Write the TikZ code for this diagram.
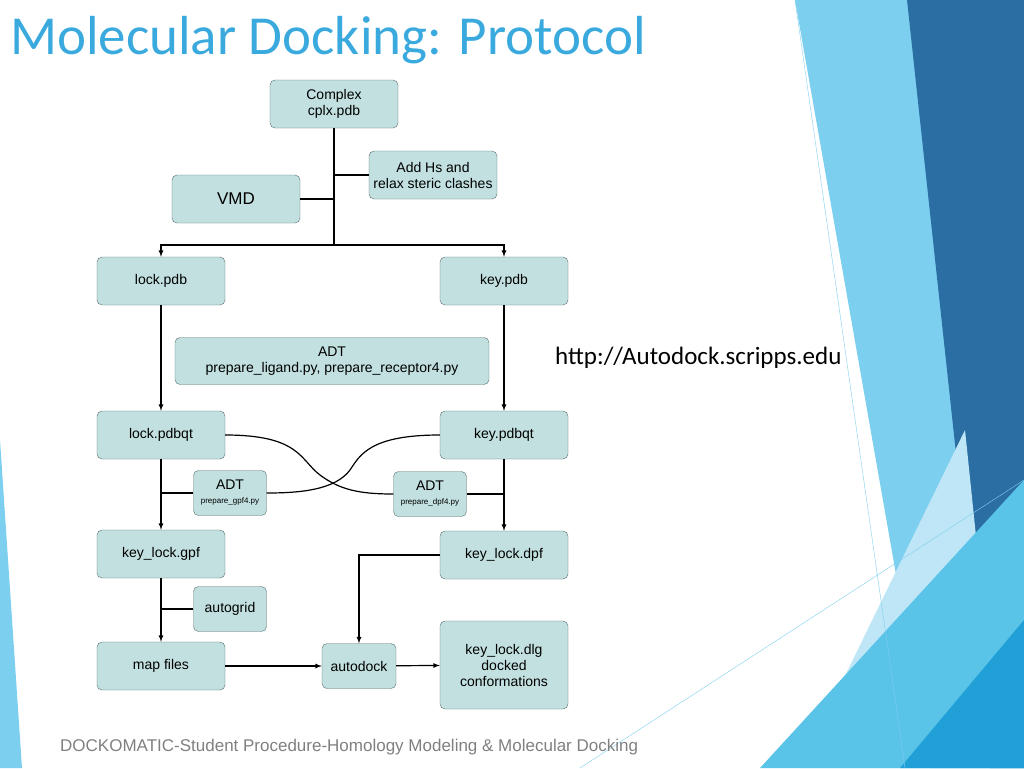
\documentclass[tikz,border=0pt]{standalone}
\usepackage{fontspec}
\setmainfont{Liberation Sans}
\newfontfamily\calib{Carlito}
\usetikzlibrary{positioning,calc}
\definecolor{boxfill}{RGB}{194,224,224}
\definecolor{boxline}{RGB}{90,110,110}
\definecolor{titleblue}{RGB}{58,170,222}
\definecolor{ribbonlight}{RGB}{125,207,240}
\definecolor{ribbondark}{RGB}{42,110,163}
\definecolor{ribbonpale}{RGB}{190,230,246}
\definecolor{ribbonmid}{RGB}{90,195,232}
\definecolor{ribbondeep}{RGB}{33,160,215}
\tikzset{
  stage/.style={draw=boxline,fill=boxfill,rounded corners=5pt,minimum width=128pt,minimum height=48pt,align=center,font=\fontsize{14}{16}\selectfont},
  tool/.style={stage,minimum width=73pt,minimum height=45pt},
  link/.style={very thick},
  flow/.style={link,-latex}
}
\begin{document}
\begin{tikzpicture}[x=1pt,y=-1pt]
      \useasboundingbox (0,0) rectangle (1024,768);
      % background ribbons
      \fill [ribbonlight] (795,0) -- (910,0) -- (1024,700) -- (1024,768) -- (930,768) -- cycle;
      \fill [ribbondark] (907,0) -- (1024,0) -- (1024,768) -- (990,768) -- cycle;
      \fill [ribbonpale] (800,768) -- (965,430) -- (1000,768) -- cycle;
      \fill [ribbonmid] (760,768) -- (1024,480) -- (1024,768) -- cycle;
      \fill [ribbondeep] (900,768) -- (1024,620) -- (1024,768) -- cycle;
      \fill [ribbonlight] (0,440) -- (22,768) -- (0,768) -- cycle;
      \draw [ribbonlight] (795,0) -- (905,768);
      \draw [ribbonlight] (580,768) -- (1024,480);
      % title and texts
      \node [anchor=base west,text=titleblue,font=\calib\fontsize{55}{60}\selectfont,inner sep=0] (title) at (10,55) {Molecular Docking: Protocol};
      \node [anchor=base west,font=\calib\fontsize{25}{30}\selectfont,inner sep=0] (url) at (555,364) {http://Autodock.scripps.edu};
      \node [anchor=base west,text=gray,font=\fontsize{17}{20}\selectfont,inner sep=0] (footer) at (60,751) {DOCKOMATIC-Student Procedure-Homology Modeling \& Molecular Docking};
      % boxes
      \node [stage] (complex) at (334,104) {Complex\\cplx.pdb};
      \node [stage] (addhs) at (433,175) {Add Hs and\\relax steric clashes};
      \node [stage,font=\fontsize{17}{19}\selectfont] (vmd) at (236,199) {VMD};
      \node [stage] (lockpdb) at (161,281) {lock.pdb};
      \node [stage] (keypdb) at (504,281) {key.pdb};
      \node [stage,minimum width=314pt,minimum height=47pt] (adt) at (332,361) {ADT\\prepare\_ligand.py, prepare\_receptor4.py};
      \node [stage] (lockqt) at (161,435) {lock.pdbqt};
      \node [stage] (keyqt) at (504,435) {key.pdbqt};
      \node [tool] (adtgpf) at (230,493) {ADT\\[-2pt]{\fontsize{8}{9}\selectfont prepare\_gpf4.py}};
      \node [tool] (adtdpf) at (430,494) {ADT\\[-2pt]{\fontsize{8}{9}\selectfont prepare\_dpf4.py}};
      \node [stage] (gpf) at (161,554) {key\_lock.gpf};
      \node [stage] (dpf) at (504,555) {key\_lock.dpf};
      \node [tool] (autogrid) at (230,609) {autogrid};
      \node [stage] (maps) at (161,666) {map files};
      \node [tool,minimum width=74pt] (autodock) at (359,666) {autodock};
      \node [stage,minimum height=88pt] (dlg) at (504,665) {key\_lock.dlg\\docked\\conformations};
      % connectors
      \coordinate (split) at (334,245);
      \draw [link] (complex) -- (split);
      \draw [link] (vmd) -- (vmd -| split);
      \draw [link] (addhs) -- (addhs -| split);
      \draw [flow] (split) -| (lockpdb);
      \draw [flow] (split) -| (keypdb);
      \draw [flow] (lockpdb) -- (lockqt);
      \draw [flow] (keypdb) -- (keyqt);
      \draw [flow] (lockqt) -- (gpf);
      \draw [flow] (keyqt) -- (dpf);
      \draw [link] (adtgpf) -- (adtgpf -| lockqt);
      \draw [link] (adtdpf) -- (adtdpf -| keyqt);
      \draw [link] (lockqt.east) .. controls (300,435) and (300,460) .. (320,475) .. controls (340,490) and (360,494) .. (adtdpf.west);
      \draw [link] (keyqt.west) .. controls (370,435) and (360,455) .. (350,470) .. controls (335,490) and (300,493) .. (adtgpf.east);
      \draw [flow] (gpf) -- (maps);
      \draw [link] (autogrid) -- (autogrid -| gpf);
      \draw [flow] (maps) -- (autodock);
      \draw [flow] (dpf) -| (autodock);
      \draw [flow] (autodock) -- (dlg);
\end{tikzpicture}
\end{document}
